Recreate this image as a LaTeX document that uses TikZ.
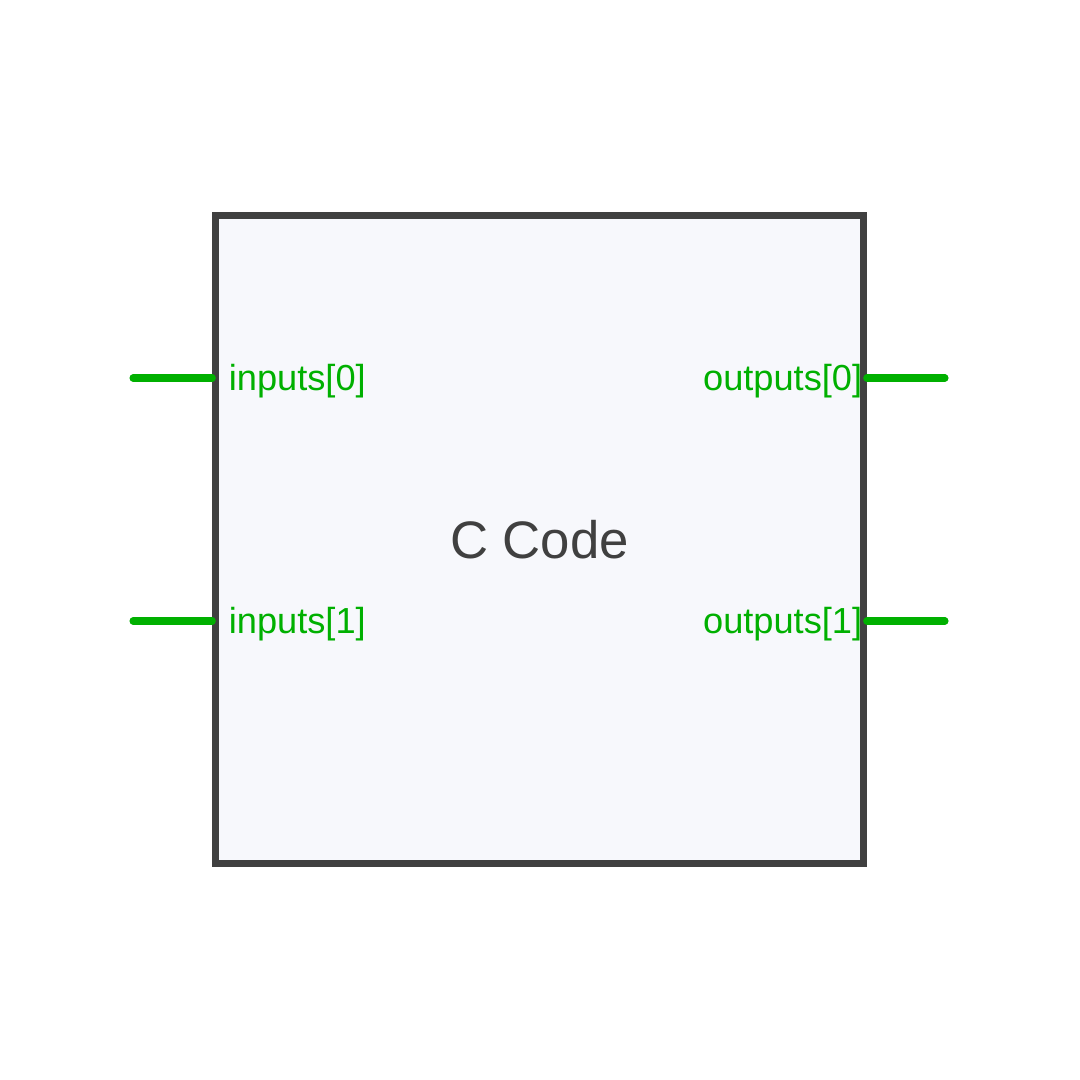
\documentclass[tikz,border=0pt]{standalone}
\usepackage{fontspec}
\setmainfont{Liberation Sans}
\definecolor{pingreen}{HTML}{00B000}
\definecolor{boxgray}{HTML}{404040}
\definecolor{boxfill}{HTML}{F7F8FC}
\begin{document}
\begin{tikzpicture}[
    x=0.01cm, y=-0.01cm,
    block/.style={draw=boxgray, line width=2pt, fill=boxfill, minimum width=6.47cm, minimum height=6.47cm, inner sep=0pt, font=\fontsize{15}{17}\selectfont, text=boxgray},
    pin/.style={draw=pingreen, line width=2pt, line cap=round},
    portlabel/.style={text=pingreen, font=\fontsize{10.3}{12}\selectfont, inner sep=0pt, yshift=-0.03cm}
]
    \useasboundingbox (0,0) rectangle (1080,1080);
    \node[block] (code) at (539.5,539.5) {C Code};

    \coordinate (in0) at (133,378);
    \coordinate (in1) at (133,621);
    \coordinate (out0) at (945,378);
    \coordinate (out1) at (945,621);

    \draw[pin] (in0) -- (code.west |- in0) node[portlabel, right, xshift=0.13cm] {inputs[0]};
    \draw[pin] (in1) -- (code.west |- in1) node[portlabel, right, xshift=0.13cm] {inputs[1]};
    \draw[pin] (out0) -- (code.east |- out0) node[portlabel, left, xshift=-0.01cm] {outputs[0]};
    \draw[pin] (out1) -- (code.east |- out1) node[portlabel, left, xshift=-0.01cm] {outputs[1]};
\end{tikzpicture}
\end{document}
